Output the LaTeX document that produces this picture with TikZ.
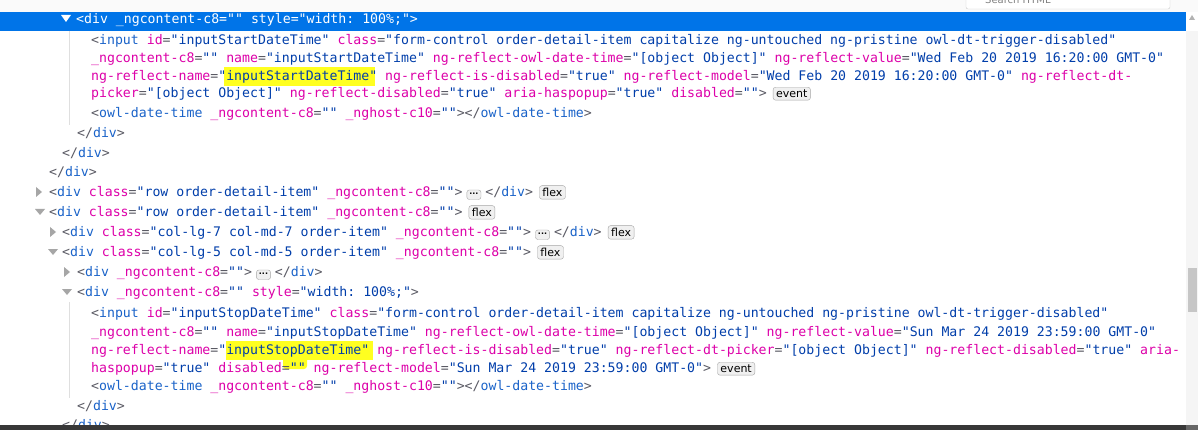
\documentclass[tikz,border=0pt]{standalone}
\usepackage{fontspec}
\setmonofont{DejaVu Sans Mono}[Scale=1]
\newfontfamily\badgefont{DejaVu Sans}
\definecolor{tagc}{HTML}{1A63C9}
\definecolor{attc}{HTML}{DD00A9}
\definecolor{valc}{HTML}{003EAA}
\definecolor{puc}{HTML}{5A5A64}
\definecolor{selc}{HTML}{0074E8}
\definecolor{hlc}{HTML}{FFFF20}
\newcommand\tg[1]{\textcolor{tagc}{#1}}
\newcommand\at[1]{\textcolor{attc}{#1}}
\newcommand\vl[1]{\textcolor{valc}{#1}}
\newcommand\pu[1]{\textcolor{puc}{#1}}
\tikzset{
  codeline/.style={anchor=base west,inner sep=0pt,font=\ttfamily\fontsize{13.2}{14}\selectfont},
  badge/.style={anchor=base west,draw=gray!70,fill=gray!12,rounded corners=2.5pt,inner xsep=3pt,inner ysep=2.5pt,font=\badgefont\fontsize{11}{11}\selectfont,text=black,xshift=6pt},
  dots/.style={badge,font=\badgefont\bfseries\fontsize{8}{8}\selectfont,inner ysep=3pt,inner xsep=2.5pt},
  tri/.style={fill=gray!70,draw=none},
}
\begin{document}
\begin{tikzpicture}[x=1pt,y=-1pt]
\useasboundingbox (0,0) rectangle (1198,430);
\fill[white] (0,0) rectangle (1198,430);
% top bar
\fill[gray!4] (0,0) rectangle (1198,12);
\draw[gray!40,fill=white,rounded corners=2pt] (966,-4) rectangle (1170,9);
\node[anchor=base west,inner sep=0pt,text=gray,font=\badgefont\fontsize{10}{10}\selectfont] (search) at (985,4) {Search HTML};
\fill[selc] (0,12) rectangle (1186,31);
% scrollbar
\fill[gray!8] (1186,31) rectangle (1198,425);
\fill[gray!45] (1188,268) rectangle (1197,312);
\fill[gray!60] (1189,20)--(1195,20)--(1192,15)--cycle;
% indent guides
\draw[gray!25] (69,31)--(69,125);
\draw[gray!25] (69,302)--(69,398);
% highlights
\fill[hlc] (224,67) rectangle (375,86);
\fill[hlc] (226,341) rectangle (373,360);
\fill[hlc,rounded corners=3pt] (283,357) rectangle (307,369);
% selected line
\fill[white] (61,15)--(71,15)--(66,22)--cycle;
\node[codeline,text=white] (l1) at (76,23.5) {<div \_ngcontent-c8="" style="width: 100\%;">};
\node[codeline] (l2) at (91,44.5) {\pu{<}\tg{input} \at{id}\pu{=}\vl{"inputStartDateTime"} \at{class}\pu{=}\vl{"form-control order-detail-item capitalize ng-untouched ng-pristine owl-dt-trigger-disabled"}};
\node[codeline] (l3) at (91,62.5) {\at{\_ngcontent-c8}\pu{=}\vl{""} \at{name}\pu{=}\vl{"inputStartDateTime"} \at{ng-reflect-owl-date-time}\pu{=}\vl{"[object Object]"} \at{ng-reflect-value}\pu{=}\vl{"Wed Feb 20 2019 16:20:00 GMT-0"}};
\node[codeline] (l4) at (91,80.5) {\at{ng-reflect-name}\pu{=}\vl{"inputStartDateTime"} \at{ng-reflect-is-disabled}\pu{=}\vl{"true"} \at{ng-reflect-model}\pu{=}\vl{"Wed Feb 20 2019 16:20:00 GMT-0"} \at{ng-reflect-dt-}};
\node[codeline] (l5) at (91,97.5) {\at{picker}\pu{=}\vl{"[object Object]"} \at{ng-reflect-disabled}\pu{=}\vl{"true"} \at{aria-haspopup}\pu{=}\vl{"true"} \at{disabled}\pu{=}\vl{""}\pu{>}};
\node[badge] (b5) at (l5.base east) {event};
\node[codeline] (l6) at (91,117.5) {\pu{<}\tg{owl-date-time} \at{\_ngcontent-c8}\pu{=}\vl{""} \at{\_nghost-c10}\pu{=}\vl{""}\pu{></}\tg{owl-date-time}\pu{>}};
\node[codeline] (l7) at (77,137.5) {\pu{</}\tg{div}\pu{>}};
\node[codeline] (l8) at (62,157.5) {\pu{</}\tg{div}\pu{>}};
\node[codeline] (l9) at (49,176.5) {\pu{</}\tg{div}\pu{>}};
% row 1 collapsed
\fill[tri] (36,187)--(36,197)--(42,192)--cycle;
\node[codeline] (l10) at (49,196.5) {\pu{<}\tg{div} \at{class}\pu{=}\vl{"row order-detail-item"} \at{\_ngcontent-c8}\pu{=}\vl{""}\pu{>}};
\node[dots,xshift=-2pt] (d10) at (l10.base east) {···};
\node[codeline,xshift=4pt] (l10b) at (d10.base east) {\pu{</}\tg{div}\pu{>}};
\node[badge] (f10) at (l10b.base east) {flex};
% row 2 expanded
\fill[tri] (35,209)--(45,209)--(40,215)--cycle;
\node[codeline] (l11) at (49,216.5) {\pu{<}\tg{div} \at{class}\pu{=}\vl{"row order-detail-item"} \at{\_ngcontent-c8}\pu{=}\vl{""}\pu{>}};
\node[badge] (f11) at (l11.base east) {flex};
\fill[tri] (50,227)--(50,237)--(56,232)--cycle;
\node[codeline] (l12) at (62,236.5) {\pu{<}\tg{div} \at{class}\pu{=}\vl{"col-lg-7 col-md-7 order-item"} \at{\_ngcontent-c8}\pu{=}\vl{""}\pu{>}};
\node[dots,xshift=-2pt] (d12) at (l12.base east) {···};
\node[codeline,xshift=4pt] (l12b) at (d12.base east) {\pu{</}\tg{div}\pu{>}};
\node[badge] (f12) at (l12b.base east) {flex};
\fill[tri] (48,249)--(58,249)--(53,255)--cycle;
\node[codeline] (l13) at (62,256.5) {\pu{<}\tg{div} \at{class}\pu{=}\vl{"col-lg-5 col-md-5 order-item"} \at{\_ngcontent-c8}\pu{=}\vl{""}\pu{>}};
\node[badge] (f13) at (l13.base east) {flex};
\fill[tri] (64,267)--(64,277)--(70,272)--cycle;
\node[codeline] (l14) at (77,276.5) {\pu{<}\tg{div} \at{\_ngcontent-c8}\pu{=}\vl{""}\pu{>}};
\node[dots,xshift=-2pt] (d14) at (l14.base east) {···};
\node[codeline,xshift=4pt] (l14b) at (d14.base east) {\pu{</}\tg{div}\pu{>}};
\fill[tri] (62,289)--(72,289)--(67,295)--cycle;
\node[codeline] (l15) at (77,296.5) {\pu{<}\tg{div} \at{\_ngcontent-c8}\pu{=}\vl{""} \at{style}\pu{=}\vl{"width: 100\%;"}\pu{>}};
\node[codeline] (l16) at (91,317.5) {\pu{<}\tg{input} \at{id}\pu{=}\vl{"inputStopDateTime"} \at{class}\pu{=}\vl{"form-control order-detail-item capitalize ng-untouched ng-pristine owl-dt-trigger-disabled"}};
\node[codeline] (l17) at (91,336.5) {\at{\_ngcontent-c8}\pu{=}\vl{""} \at{name}\pu{=}\vl{"inputStopDateTime"} \at{ng-reflect-owl-date-time}\pu{=}\vl{"[object Object]"} \at{ng-reflect-value}\pu{=}\vl{"Sun Mar 24 2019 23:59:00 GMT-0"}};
\node[codeline] (l18) at (91,354.5) {\at{ng-reflect-name}\pu{=}\vl{"inputStopDateTime"} \at{ng-reflect-is-disabled}\pu{=}\vl{"true"} \at{ng-reflect-dt-picker}\pu{=}\vl{"[object Object]"} \at{ng-reflect-disabled}\pu{=}\vl{"true"} \at{aria-}};
\node[codeline] (l19) at (91,372.5) {\at{haspopup}\pu{=}\vl{"true"} \at{disabled}\pu{=}\vl{""} \at{ng-reflect-model}\pu{=}\vl{"Sun Mar 24 2019 23:59:00 GMT-0"}\pu{>}};
\node[badge] (b19) at (l19.base east) {event};
\node[codeline] (l20) at (91,390.5) {\pu{<}\tg{owl-date-time} \at{\_ngcontent-c8}\pu{=}\vl{""} \at{\_nghost-c10}\pu{=}\vl{""}\pu{></}\tg{owl-date-time}\pu{>}};
\node[codeline] (l21) at (77,410.5) {\pu{</}\tg{div}\pu{>}};
\node[codeline] (l22) at (62,429) {\pu{</}\tg{div}\pu{>}};
% bottom bar
\fill[black!78] (0,425) rectangle (1198,430);
\fill[black!60] (1186,425) rectangle (1198,430);
\end{tikzpicture}
\end{document}
